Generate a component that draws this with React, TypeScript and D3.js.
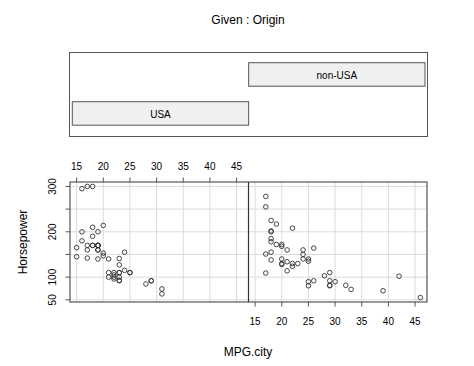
import React from "react";
import * as d3 from "d3";

const usaMpg = [22,19,16,19,16,16,25,25,19,21,18,15,17,17,20,23,20,29,23,22,17,21,18,29,20,31,23,22,22,24,15,21,18,17,18,23,19,24,23,18,19,23,31,23,19,19,19,28];
const usaHp = [110,170,180,170,200,295,110,110,160,110,170,165,170,300,153,141,147,92,93,100,142,100,300,92,214,63,127,96,105,115,145,140,190,160,210,100,140,155,110,170,170,92,74,110,160,200,170,85];
const nonUsaMpg = [25,18,20,19,22,46,30,24,42,24,29,22,26,20,17,18,18,29,28,26,18,17,20,19,29,18,29,24,17,21,20,33,25,23,39,32,25,22,18,25,17,21,18,21,20];
const nonUsaHp = [140,200,172,172,208,55,90,160,102,140,81,124,92,128,278,185,225,82,103,164,155,255,130,217,92,202,110,150,151,160,140,73,90,130,70,82,135,130,138,81,109,134,178,114,168];
const groups = ["USA", "non-USA"];
const xTicks = [15, 20, 25, 30, 35, 40, 45];
const yTicks = [50, 100, 150, 200, 250, 300];
const yLabels = [50, 100, 200, 300];

const FONT = "Liberation Sans, Arial, sans-serif";

export default function App() {
  const W = 474, H = 366;
  const top = 182, bottom = 302;
  const panels = [
    { x0: 70, x1: 248.5, mpg: usaMpg, hp: usaHp },
    { x0: 248.5, x1: 427, mpg: nonUsaMpg, hp: nonUsaHp },
  ];
  const xr = d3.extent([...usaMpg, ...nonUsaMpg]) as [number, number];
  const yr = d3.extent([...usaHp, ...nonUsaHp]) as [number, number];
  const xpad = (xr[1] - xr[0]) * 0.04;
  const ypad = (yr[1] - yr[0]) * 0.04;
  const y = d3.scaleLinear().domain([yr[0] - ypad, yr[1] + ypad]).range([bottom, top]);
  const gx = d3.scaleLinear().domain([0, 1]).range([72.3, 425]);
  const frame = "#555";

  return (
    <svg width={W} height={H} style={{ position: "absolute", left: 0, top: 0, background: "#fff" }} fontFamily={FONT}>
      <text x={248} y={24} textAnchor="middle" fontSize={12}>Given : Origin</text>
      <rect x={69.5} y={52.5} width={358} height={84} fill="none" stroke={frame} />
      {groups.map((g, i) => {
        const bx0 = gx(i / 2), bx1 = gx((i + 1) / 2);
        const by = i === 0 ? 101.7 : 62.7;
        return (
          <g key={g}>
            <rect x={bx0} y={by} width={bx1 - bx0} height={23.5} fill="#f0f0f0" stroke={frame} />
            <text x={(bx0 + bx1) / 2} y={by + 16} textAnchor="middle" fontSize={10}>{g}</text>
          </g>
        );
      })}
      {panels.map((p, pi) => {
        const x = d3.scaleLinear().domain([xr[0] - xpad, xr[1] + xpad]).range([p.x0, p.x1]);
        return (
          <g key={pi}>
            {xTicks.map(t => (
              <line key={"gx" + t} x1={x(t)} x2={x(t)} y1={top} y2={bottom} stroke="#dcdcdc" />
            ))}
            {yTicks.map(t => (
              <line key={"gy" + t} x1={p.x0} x2={p.x1} y1={y(t)} y2={y(t)} stroke="#dcdcdc" />
            ))}
            {p.mpg.map((m, i) => (
              <circle key={i} cx={x(m)} cy={y(p.hp[i])} r={2.3} fill="none" stroke="#333" strokeWidth={0.9} />
            ))}
            {pi === 0 && xTicks.map(t => (
              <g key={"tt" + t}>
                <line x1={x(t)} x2={x(t)} y1={top} y2={top - 4.5} stroke={frame} />
                <text x={x(t)} y={170} textAnchor="middle" fontSize={10}>{t}</text>
              </g>
            ))}
            {pi === 1 && xTicks.map(t => (
              <g key={"bt" + t}>
                <line x1={x(t)} x2={x(t)} y1={bottom} y2={bottom + 4.5} stroke={frame} />
                <text x={x(t)} y={325} textAnchor="middle" fontSize={10}>{t}</text>
              </g>
            ))}
          </g>
        );
      })}
      {yTicks.map(t => (
        <line key={"yt" + t} x1={70} x2={65.5} y1={y(t)} y2={y(t)} stroke={frame} />
      ))}
      {yLabels.map(t => (
        <text key={"yl" + t} transform={`translate(55.5,${y(t)}) rotate(-90)`} textAnchor="middle" fontSize={10}>{t}</text>
      ))}
      <rect x={70} y={top} width={357} height={bottom - top} fill="none" stroke={frame} strokeWidth={1.2} />
      <line x1={248.5} x2={248.5} y1={top} y2={bottom} stroke="#333" strokeWidth={1.2} />
      <text transform={`translate(27,242) rotate(-90)`} textAnchor="middle" fontSize={12}>Horsepower</text>
      <text x={248} y={356} textAnchor="middle" fontSize={12}>MPG.city</text>
    </svg>
  );
}
